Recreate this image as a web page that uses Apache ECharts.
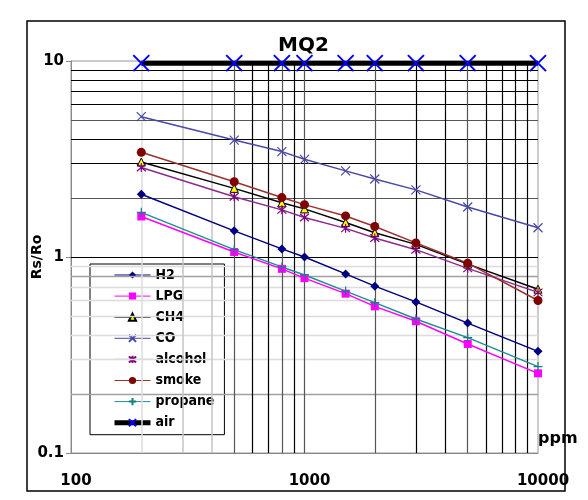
<!DOCTYPE html>
<html><head><meta charset="utf-8">
<script src="https://cdn.jsdelivr.net/npm/echarts@6/dist/echarts.min.js"></script>
<style>html,body{margin:0;padding:0;background:#fff}#c{width:588px;height:500px}</style>
</head><body><div id="c"></div>
<script>
// ---- data ----
const ppm = [200, 500, 800, 1000, 1500, 2000, 3000, 5000, 10000];
const h2 = [2.09, 1.36, 1.10, 1.00, 0.82, 0.71, 0.59, 0.46, 0.33];
const lpg = [1.61, 1.06, 0.87, 0.78, 0.65, 0.56, 0.47, 0.36, 0.255];
const ch4 = [3.05, 2.24, 1.89, 1.76, 1.50, 1.33, 1.16, 0.92, 0.685];
const co = [5.2, 3.95, 3.45, 3.15, 2.75, 2.5, 2.2, 1.8, 1.41];
const alcohol = [2.86, 2.03, 1.74, 1.59, 1.40, 1.25, 1.09, 0.875, 0.66];
const smoke = [3.42, 2.42, 2.01, 1.85, 1.62, 1.43, 1.18, 0.93, 0.60];
const propane = [1.69, 1.09, 0.89, 0.81, 0.67, 0.585, 0.483, 0.388, 0.276];
const air = [9.75, 9.75, 9.75, 9.75, 9.75, 9.75, 9.75, 9.75, 9.75];
const seriesNames = ['H2', 'LPG', 'CH4', 'CO', 'alcohol', 'smoke', 'propane', 'air'];
// tick / gridline values
const xTicks = [100, 1000, 10000];
const yTicks = [0.1, 1, 10];
const xGridLight = [200, 300, 400];
const xGridDark = [500, 600, 700, 800, 900, 1000, 2000, 3000, 4000, 5000, 6000, 7000, 8000, 9000];
const yGridDark = [1, 2, 3, 4, 5, 6, 7, 8, 9];
const yGridLight = [0.2, 0.3, 0.4, 0.5, 0.6, 0.7, 0.8, 0.9];

const FONT = 'DejaVu Sans';
const LEGEND_FONT = '"DejaVu Sans Condensed", "DejaVu Sans", sans-serif';
const pairs = ys => ppm.map((x, i) => [x, ys[i]]);

const X_PATH = 'path://M0,0L10,10M10,0L0,10';
const AST_PATH = 'path://M0,0L10,10M10,0L0,10M5,-1L5,11';
const PLUS_PATH = 'path://M5,0L5,10M0,5L10,5';

// gridline styling
const grayOnDark = new Set([500, 800, 1000, 2000, 5000]);
const gridLines = [];
yGridLight.forEach(v => gridLines.push({yAxis: v, lineStyle: {color: (v === 0.8 || v === 0.2) ? '#a0a0a0' : '#dcdcdc', width: 1.3, type: 'solid'}}));
xGridLight.forEach(v => gridLines.push({xAxis: v, lineStyle: {color: v === 200 ? '#dcdcdc' : '#c4c4c4', width: 1.5, type: 'solid'}}));
yGridDark.forEach(v => gridLines.push({yAxis: v, lineStyle: {color: (v === 2 || v === 5) ? '#555' : '#000', width: 1.2, type: 'solid'}}));
xGridDark.forEach(v => gridLines.push({xAxis: v, lineStyle: {color: grayOnDark.has(v) ? '#555' : '#000', width: 1.2, type: 'solid'}}));

function lineSeries(name, ys, color, symbol, size, extra) {
  return Object.assign({
    name, type: 'line', data: pairs(ys), z: 5,
    symbol, symbolSize: size, showSymbol: true,
    lineStyle: {color, width: 1.5},
    itemStyle: {color, borderColor: color, borderWidth: 0},
    emphasis: {disabled: true}
  }, extra || {});
}

const series = [
  {
    name: '_grid', type: 'line', data: [], z: 1, silent: true,
    markLine: {silent: true, symbol: ['none', 'none'], label: {show: false}, animation: false, data: gridLines}
  },
  lineSeries('H2', h2, '#000080', 'diamond', 9),
  lineSeries('LPG', lpg, '#ff00ff', 'rect', 8),
  lineSeries('CH4', ch4, '#000000', 'triangle', 8, {itemStyle: {color: '#ffff00', borderColor: '#000', borderWidth: 1}}),
  lineSeries('CO', co, '#4848a8', X_PATH, 9, {itemStyle: {color: '#4848a8', borderColor: '#4848a8', borderWidth: 1.2}}),
  lineSeries('alcohol', alcohol, '#8e2a8e', AST_PATH, 9, {itemStyle: {color: '#800080', borderColor: '#800080', borderWidth: 1.2}}),
  lineSeries('smoke', smoke, '#9b3030', 'circle', 9, {itemStyle: {color: '#800000', borderColor: '#800000', borderWidth: 0}}),
  lineSeries('propane', propane, '#1f8f8f', PLUS_PATH, 9, {itemStyle: {color: '#108080', borderColor: '#108080', borderWidth: 1.2}}),
  lineSeries('air', air, '#000000', X_PATH, 16, {z: 6, lineStyle: {color: '#000', width: 5}, itemStyle: {color: '#0000ff', borderColor: '#0000ff', borderWidth: 2}})
];

const legendData = seriesNames.map(n => n === 'air'
  ? {name: n, lineStyle: {width: 5, color: '#000'}}
  : {name: n});

const chart = echarts.init(document.getElementById('c'), null, {renderer: 'canvas'});
chart.setOption({
  animation: false,
  backgroundColor: '#fff',
  title: {
    text: 'MQ2', left: 273, top: 31,
    textStyle: {fontFamily: FONT, fontWeight: 'bold', fontSize: 20, color: '#000'}
  },
  graphic: [{
    type: 'rect', shape: {x: 27, y: 21, width: 538, height: 470},
    style: {fill: 'none', stroke: '#000', lineWidth: 1.5}, z: 0, silent: true
  }],
  legend: {
    orient: 'vertical', left: 90, top: 264,
    padding: [4, 10, 5, 22], itemGap: 7.1, itemWidth: 36, itemHeight: 9,
    backgroundColor: '#fff', borderColor: '#000', borderWidth: 1, borderRadius: 0,
    lineStyle: {width: 1},
    textStyle: {fontFamily: LEGEND_FONT, fontWeight: 'bold', fontSize: 14, lineHeight: 14, color: '#000'},
    data: legendData, selectedMode: false
  },
  grid: {left: 71, top: 61, right: 50, bottom: 47, show: true, borderColor: '#999', borderWidth: 1, backgroundColor: 'transparent'},
  xAxis: {
    type: 'log', logBase: 10, min: xTicks[0], max: xTicks[xTicks.length - 1],
    splitLine: {show: false}, minorSplitLine: {show: false},
    axisLine: {show: true, lineStyle: {color: '#888'}},
    axisTick: {show: false},
    axisLabel: {fontFamily: FONT, fontWeight: 'bold', fontSize: 15, color: '#000', margin: 21, padding: [0, 0, 0, 10],
      formatter: v => String(+(+v).toPrecision(3))},
    name: 'ppm', nameLocation: 'end', nameGap: 0,
    nameTextStyle: {fontFamily: FONT, fontWeight: 'bold', fontSize: 16, color: '#000', align: 'left', verticalAlign: 'bottom', padding: [0, 0, 6, 0]}
  },
  yAxis: {
    type: 'log', logBase: 10, min: yTicks[0], max: yTicks[yTicks.length - 1],
    splitLine: {show: false}, minorSplitLine: {show: false},
    axisLine: {show: true, lineStyle: {color: '#888'}},
    axisTick: {show: true, length: 5, lineStyle: {color: '#888'}},
    axisLabel: {fontFamily: FONT, fontWeight: 'bold', fontSize: 15, color: '#000', margin: 7,
      formatter: v => String(+(+v).toPrecision(3))},
    name: 'Rs/Ro', nameLocation: 'middle', nameGap: 27, nameRotate: 90, nameMoveOverlap: false,
    nameTextStyle: {fontFamily: FONT, fontWeight: 'bold', fontSize: 14, color: '#000'}
  },
  series
});
</script></body></html>
